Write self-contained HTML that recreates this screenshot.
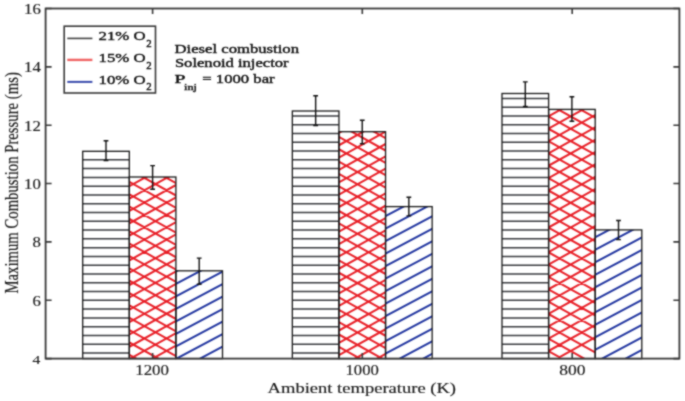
<!DOCTYPE html><html><head><meta charset="utf-8"><style>html,body{margin:0;padding:0;background:#fff;}svg{display:block}text{font-family:"Liberation Serif",serif;fill:#1a1a1a}.b{stroke:#111;stroke-width:0.38;fill:#111}.m{stroke:#1a1a1a;stroke-width:0.15}</style></head><body>
<div id="w">
<svg width="685" height="401" viewBox="0 0 685 401">
<defs><filter id="bl" x="0" y="0" width="1" height="1" color-interpolation-filters="sRGB"><feConvolveMatrix order="3" kernelMatrix="1 2 1 2 8 2 1 2 1" divisor="20" edgeMode="duplicate" preserveAlpha="true"/></filter>
<clipPath id="c00"><rect x="82.70" y="151.30" width="46.60" height="207.30"/></clipPath>
<clipPath id="c01"><rect x="129.30" y="177.00" width="46.60" height="181.60"/></clipPath>
<clipPath id="c02"><rect x="175.90" y="270.80" width="46.60" height="87.80"/></clipPath>
<clipPath id="c10"><rect x="292.35" y="111.00" width="46.60" height="247.60"/></clipPath>
<clipPath id="c11"><rect x="338.95" y="131.70" width="46.60" height="226.90"/></clipPath>
<clipPath id="c12"><rect x="385.55" y="206.60" width="46.60" height="152.00"/></clipPath>
<clipPath id="c20"><rect x="502.00" y="93.50" width="46.60" height="265.10"/></clipPath>
<clipPath id="c21"><rect x="548.60" y="109.40" width="46.60" height="249.20"/></clipPath>
<clipPath id="c22"><rect x="595.20" y="229.90" width="46.60" height="128.70"/></clipPath>
</defs>
<rect width="685" height="401" fill="#fff"/><g filter="url(#bl)"><rect width="685" height="401" fill="#fff"/>
<path d="M82.70 353.00H129.30M82.70 344.22H129.30M82.70 335.44H129.30M82.70 326.66H129.30M82.70 317.88H129.30M82.70 309.10H129.30M82.70 300.32H129.30M82.70 291.54H129.30M82.70 282.76H129.30M82.70 273.98H129.30M82.70 265.20H129.30M82.70 256.42H129.30M82.70 247.64H129.30M82.70 238.86H129.30M82.70 230.08H129.30M82.70 221.30H129.30M82.70 212.52H129.30M82.70 203.74H129.30M82.70 194.96H129.30M82.70 186.18H129.30M82.70 177.40H129.30M82.70 168.62H129.30M82.70 159.84H129.30M82.70 151.06H129.30" stroke="#3a3c40" stroke-width="1.5" fill="none" clip-path="url(#c00)"/>
<path d="M127.30 156.04L177.90 184.19M127.30 175.06L177.90 146.91M127.30 168.39L177.90 196.54M127.30 187.41L177.90 159.26M127.30 180.74L177.90 208.89M127.30 199.76L177.90 171.61M127.30 193.09L177.90 221.24M127.30 212.11L177.90 183.96M127.30 205.44L177.90 233.59M127.30 224.46L177.90 196.31M127.30 217.79L177.90 245.94M127.30 236.81L177.90 208.66M127.30 230.14L177.90 258.29M127.30 249.16L177.90 221.01M127.30 242.49L177.90 270.64M127.30 261.51L177.90 233.36M127.30 254.84L177.90 282.99M127.30 273.86L177.90 245.71M127.30 267.19L177.90 295.34M127.30 286.21L177.90 258.06M127.30 279.54L177.90 307.69M127.30 298.56L177.90 270.41M127.30 291.89L177.90 320.04M127.30 310.91L177.90 282.76M127.30 304.24L177.90 332.39M127.30 323.26L177.90 295.11M127.30 316.59L177.90 344.74M127.30 335.61L177.90 307.46M127.30 328.94L177.90 357.09M127.30 347.96L177.90 319.81M127.30 341.29L177.90 369.44M127.30 360.31L177.90 332.16M127.30 353.64L177.90 381.79M127.30 372.66L177.90 344.51" stroke="#e82028" stroke-width="2.0" fill="none" clip-path="url(#c01)"/>
<path d="M173.90 272.49L224.50 245.68M173.90 284.99L224.50 258.18M173.90 297.49L224.50 270.68M173.90 309.99L224.50 283.18M173.90 322.49L224.50 295.68M173.90 334.99L224.50 308.18M173.90 347.49L224.50 320.68M173.90 359.99L224.50 333.18M173.90 372.49L224.50 345.68M173.90 384.99L224.50 358.18" stroke="#2236a0" stroke-width="2.0" fill="none" clip-path="url(#c02)"/>
<path d="M292.35 353.00H338.95M292.35 344.22H338.95M292.35 335.44H338.95M292.35 326.66H338.95M292.35 317.88H338.95M292.35 309.10H338.95M292.35 300.32H338.95M292.35 291.54H338.95M292.35 282.76H338.95M292.35 273.98H338.95M292.35 265.20H338.95M292.35 256.42H338.95M292.35 247.64H338.95M292.35 238.86H338.95M292.35 230.08H338.95M292.35 221.30H338.95M292.35 212.52H338.95M292.35 203.74H338.95M292.35 194.96H338.95M292.35 186.18H338.95M292.35 177.40H338.95M292.35 168.62H338.95M292.35 159.84H338.95M292.35 151.06H338.95M292.35 142.28H338.95M292.35 133.50H338.95M292.35 124.72H338.95M292.35 115.94H338.95" stroke="#3a3c40" stroke-width="1.5" fill="none" clip-path="url(#c10)"/>
<path d="M336.95 111.12L387.55 139.27M336.95 133.98L387.55 105.83M336.95 123.47L387.55 151.62M336.95 146.33L387.55 118.18M336.95 135.82L387.55 163.97M336.95 158.68L387.55 130.53M336.95 148.17L387.55 176.32M336.95 171.03L387.55 142.88M336.95 160.52L387.55 188.67M336.95 183.38L387.55 155.23M336.95 172.87L387.55 201.02M336.95 195.73L387.55 167.58M336.95 185.22L387.55 213.37M336.95 208.08L387.55 179.93M336.95 197.57L387.55 225.72M336.95 220.43L387.55 192.28M336.95 209.92L387.55 238.07M336.95 232.78L387.55 204.63M336.95 222.27L387.55 250.42M336.95 245.13L387.55 216.98M336.95 234.62L387.55 262.77M336.95 257.48L387.55 229.33M336.95 246.97L387.55 275.12M336.95 269.83L387.55 241.68M336.95 259.32L387.55 287.47M336.95 282.18L387.55 254.03M336.95 271.67L387.55 299.82M336.95 294.53L387.55 266.38M336.95 284.02L387.55 312.17M336.95 306.88L387.55 278.73M336.95 296.37L387.55 324.52M336.95 319.23L387.55 291.08M336.95 308.72L387.55 336.87M336.95 331.58L387.55 303.43M336.95 321.07L387.55 349.22M336.95 343.93L387.55 315.78M336.95 333.42L387.55 361.57M336.95 356.28L387.55 328.13M336.95 345.77L387.55 373.92M336.95 368.63L387.55 340.48M336.95 358.12L387.55 386.27M336.95 380.98L387.55 352.83" stroke="#e82028" stroke-width="2.0" fill="none" clip-path="url(#c11)"/>
<path d="M383.55 204.70L434.15 177.88M383.55 217.20L434.15 190.38M383.55 229.70L434.15 202.88M383.55 242.20L434.15 215.38M383.55 254.70L434.15 227.88M383.55 267.20L434.15 240.38M383.55 279.70L434.15 252.88M383.55 292.20L434.15 265.38M383.55 304.70L434.15 277.88M383.55 317.20L434.15 290.38M383.55 329.70L434.15 302.88M383.55 342.20L434.15 315.38M383.55 354.70L434.15 327.88M383.55 367.20L434.15 340.38M383.55 379.70L434.15 352.88" stroke="#2236a0" stroke-width="2.0" fill="none" clip-path="url(#c12)"/>
<path d="M502.00 353.00H548.60M502.00 344.22H548.60M502.00 335.44H548.60M502.00 326.66H548.60M502.00 317.88H548.60M502.00 309.10H548.60M502.00 300.32H548.60M502.00 291.54H548.60M502.00 282.76H548.60M502.00 273.98H548.60M502.00 265.20H548.60M502.00 256.42H548.60M502.00 247.64H548.60M502.00 238.86H548.60M502.00 230.08H548.60M502.00 221.30H548.60M502.00 212.52H548.60M502.00 203.74H548.60M502.00 194.96H548.60M502.00 186.18H548.60M502.00 177.40H548.60M502.00 168.62H548.60M502.00 159.84H548.60M502.00 151.06H548.60M502.00 142.28H548.60M502.00 133.50H548.60M502.00 124.72H548.60M502.00 115.94H548.60M502.00 107.16H548.60M502.00 98.38H548.60" stroke="#3a3c40" stroke-width="1.5" fill="none" clip-path="url(#c20)"/>
<path d="M546.60 90.67L597.20 118.82M546.60 105.03L597.20 76.88M546.60 103.02L597.20 131.17M546.60 117.38L597.20 89.23M546.60 115.37L597.20 143.52M546.60 129.73L597.20 101.58M546.60 127.72L597.20 155.87M546.60 142.08L597.20 113.93M546.60 140.07L597.20 168.22M546.60 154.43L597.20 126.28M546.60 152.42L597.20 180.57M546.60 166.78L597.20 138.63M546.60 164.77L597.20 192.92M546.60 179.13L597.20 150.98M546.60 177.12L597.20 205.27M546.60 191.48L597.20 163.33M546.60 189.47L597.20 217.62M546.60 203.83L597.20 175.68M546.60 201.82L597.20 229.97M546.60 216.18L597.20 188.03M546.60 214.17L597.20 242.32M546.60 228.53L597.20 200.38M546.60 226.52L597.20 254.67M546.60 240.88L597.20 212.73M546.60 238.87L597.20 267.02M546.60 253.23L597.20 225.08M546.60 251.22L597.20 279.37M546.60 265.58L597.20 237.43M546.60 263.57L597.20 291.72M546.60 277.93L597.20 249.78M546.60 275.92L597.20 304.07M546.60 290.28L597.20 262.13M546.60 288.27L597.20 316.42M546.60 302.63L597.20 274.48M546.60 300.62L597.20 328.77M546.60 314.98L597.20 286.83M546.60 312.97L597.20 341.12M546.60 327.33L597.20 299.18M546.60 325.32L597.20 353.47M546.60 339.68L597.20 311.53M546.60 337.67L597.20 365.82M546.60 352.03L597.20 323.88M546.60 350.02L597.20 378.17M546.60 364.38L597.20 336.23" stroke="#e82028" stroke-width="2.0" fill="none" clip-path="url(#c21)"/>
<path d="M593.20 238.35L643.80 211.53M593.20 250.85L643.80 224.03M593.20 263.35L643.80 236.53M593.20 275.85L643.80 249.03M593.20 288.35L643.80 261.53M593.20 300.85L643.80 274.03M593.20 313.35L643.80 286.53M593.20 325.85L643.80 299.03M593.20 338.35L643.80 311.53M593.20 350.85L643.80 324.03M593.20 363.35L643.80 336.53M593.20 375.85L643.80 349.03" stroke="#2236a0" stroke-width="2.0" fill="none" clip-path="url(#c22)"/>
<rect x="82.70" y="151.30" width="46.60" height="207.30" fill="none" stroke="#1a1a1a" stroke-width="1.3"/>
<rect x="129.30" y="177.00" width="46.60" height="181.60" fill="none" stroke="#1a1a1a" stroke-width="1.3"/>
<rect x="175.90" y="270.80" width="46.60" height="87.80" fill="none" stroke="#1a1a1a" stroke-width="1.3"/>
<rect x="292.35" y="111.00" width="46.60" height="247.60" fill="none" stroke="#1a1a1a" stroke-width="1.3"/>
<rect x="338.95" y="131.70" width="46.60" height="226.90" fill="none" stroke="#1a1a1a" stroke-width="1.3"/>
<rect x="385.55" y="206.60" width="46.60" height="152.00" fill="none" stroke="#1a1a1a" stroke-width="1.3"/>
<rect x="502.00" y="93.50" width="46.60" height="265.10" fill="none" stroke="#1a1a1a" stroke-width="1.3"/>
<rect x="548.60" y="109.40" width="46.60" height="249.20" fill="none" stroke="#1a1a1a" stroke-width="1.3"/>
<rect x="595.20" y="229.90" width="46.60" height="128.70" fill="none" stroke="#1a1a1a" stroke-width="1.3"/>
<path d="M106.00 140.80V160.60M103.60 140.80H108.40M103.60 160.60H108.40" stroke="#111" stroke-width="1.4" fill="none"/>
<path d="M152.60 165.60V189.30M150.20 165.60H155.00M150.20 189.30H155.00" stroke="#111" stroke-width="1.4" fill="none"/>
<path d="M199.20 258.10V284.20M196.80 258.10H201.60M196.80 284.20H201.60" stroke="#111" stroke-width="1.4" fill="none"/>
<path d="M315.65 95.80V125.50M313.25 95.80H318.05M313.25 125.50H318.05" stroke="#111" stroke-width="1.4" fill="none"/>
<path d="M362.25 120.20V143.70M359.85 120.20H364.65M359.85 143.70H364.65" stroke="#111" stroke-width="1.4" fill="none"/>
<path d="M408.85 197.20V215.90M406.45 197.20H411.25M406.45 215.90H411.25" stroke="#111" stroke-width="1.4" fill="none"/>
<path d="M525.30 81.90V106.50M522.90 81.90H527.70M522.90 106.50H527.70" stroke="#111" stroke-width="1.4" fill="none"/>
<path d="M571.90 96.80V121.20M569.50 96.80H574.30M569.50 121.20H574.30" stroke="#111" stroke-width="1.4" fill="none"/>
<path d="M618.50 220.50V239.60M616.10 220.50H620.90M616.10 239.60H620.90" stroke="#111" stroke-width="1.4" fill="none"/>
<rect x="45.6" y="8.5" width="633.8" height="350.1" fill="none" stroke="#3a3a3a" stroke-width="1.8"/>
<path d="M45.6 358.60h6M679.4 358.60h-6M45.6 300.25h6M679.4 300.25h-6M45.6 241.90h6M679.4 241.90h-6M45.6 183.55h6M679.4 183.55h-6M45.6 125.20h6M679.4 125.20h-6M45.6 66.85h6M679.4 66.85h-6M45.6 8.50h6M679.4 8.50h-6M152.6 358.6v-5.5M152.6 8.5v5.5M362.3 358.6v-5.5M362.3 8.5v5.5M572.2 358.6v-5.5M572.2 8.5v5.5" stroke="#3a3a3a" stroke-width="1.6" fill="none"/>
<text class="m" x="40.2" y="364.00" font-size="13.0" text-anchor="end" transform="translate(40.2 0) scale(1.2 1) translate(-40.2 0)">4</text>
<text class="m" x="40.9" y="305.65" font-size="14.0" text-anchor="end" transform="translate(40.9 0) scale(1.2 1) translate(-40.9 0)">6</text>
<text class="m" x="40.9" y="247.30" font-size="14.0" text-anchor="end" transform="translate(40.9 0) scale(1.2 1) translate(-40.9 0)">8</text>
<text class="m" x="40.9" y="188.95" font-size="14.0" text-anchor="end" transform="translate(40.9 0) scale(1.2 1) translate(-40.9 0)">10</text>
<text class="m" x="40.9" y="130.60" font-size="14.0" text-anchor="end" transform="translate(40.9 0) scale(1.2 1) translate(-40.9 0)">12</text>
<text class="m" x="40.9" y="72.25" font-size="14.0" text-anchor="end" transform="translate(40.9 0) scale(1.2 1) translate(-40.9 0)">14</text>
<text class="m" x="40.9" y="13.90" font-size="14.0" text-anchor="end" transform="translate(40.9 0) scale(1.2 1) translate(-40.9 0)">16</text>
<text class="m" x="135.20" y="375.4" font-size="14.2" textLength="33.8" lengthAdjust="spacingAndGlyphs">1200</text>
<text class="m" x="345.50" y="375.4" font-size="14.2" textLength="33.4" lengthAdjust="spacingAndGlyphs">1000</text>
<text class="m" x="559.30" y="375.4" font-size="14.2" textLength="26.25" lengthAdjust="spacingAndGlyphs">800</text>
<text class="m" x="267.6" y="392.6" font-size="14.8" textLength="188.4" lengthAdjust="spacingAndGlyphs">Ambient temperature (K)</text>
<text class="m" x="0" y="0" font-size="14.7" textLength="221.4" lengthAdjust="spacingAndGlyphs" transform="translate(17.6 293.6) scale(1.33 1) rotate(-90)">Maximum Combustion Pressure (ms)</text>
<rect x="64.2" y="26.2" width="91.3" height="66.8" fill="#fff" stroke="#3a3a3a" stroke-width="1.6"/>
<path d="M67.3 38.4H92.4" stroke="#444" stroke-width="1.6"/>
<text class="b" x="98.6" y="40.3" font-size="13.3" textLength="47" lengthAdjust="spacingAndGlyphs">21% O</text>
<text class="b" x="146.2" y="46.7" font-size="10.2" textLength="5.4" lengthAdjust="spacingAndGlyphs">2</text>
<path d="M67.3 59.9H92.4" stroke="#f06464" stroke-width="2.4"/>
<text class="b" x="98.6" y="62.3" font-size="13.3" textLength="47" lengthAdjust="spacingAndGlyphs">15% O</text>
<text class="b" x="146.2" y="68.7" font-size="10.2" textLength="5.4" lengthAdjust="spacingAndGlyphs">2</text>
<path d="M67.3 81.9H92.4" stroke="#3a4bad" stroke-width="2.0"/>
<text class="b" x="98.6" y="84.0" font-size="13.3" textLength="47" lengthAdjust="spacingAndGlyphs">10% O</text>
<text class="b" x="146.2" y="90.4" font-size="10.2" textLength="5.4" lengthAdjust="spacingAndGlyphs">2</text>
<text class="b" x="174.5" y="52.6" font-size="12.6" textLength="124.5" lengthAdjust="spacingAndGlyphs">Diesel combustion</text>
<text class="b" x="174.9" y="67.2" font-size="12.6" textLength="113.7" lengthAdjust="spacingAndGlyphs">Solenoid injector</text>
<text class="b" x="174.5" y="83.4" font-size="12.6" textLength="11" lengthAdjust="spacingAndGlyphs">P</text>
<text class="b" x="184.0" y="90.0" font-size="9" textLength="13" lengthAdjust="spacingAndGlyphs">inj</text>
<text class="b" x="202.2" y="83.4" font-size="12.6" textLength="72.5" lengthAdjust="spacingAndGlyphs">= 1000 bar</text>
</g></svg></div></body></html>
